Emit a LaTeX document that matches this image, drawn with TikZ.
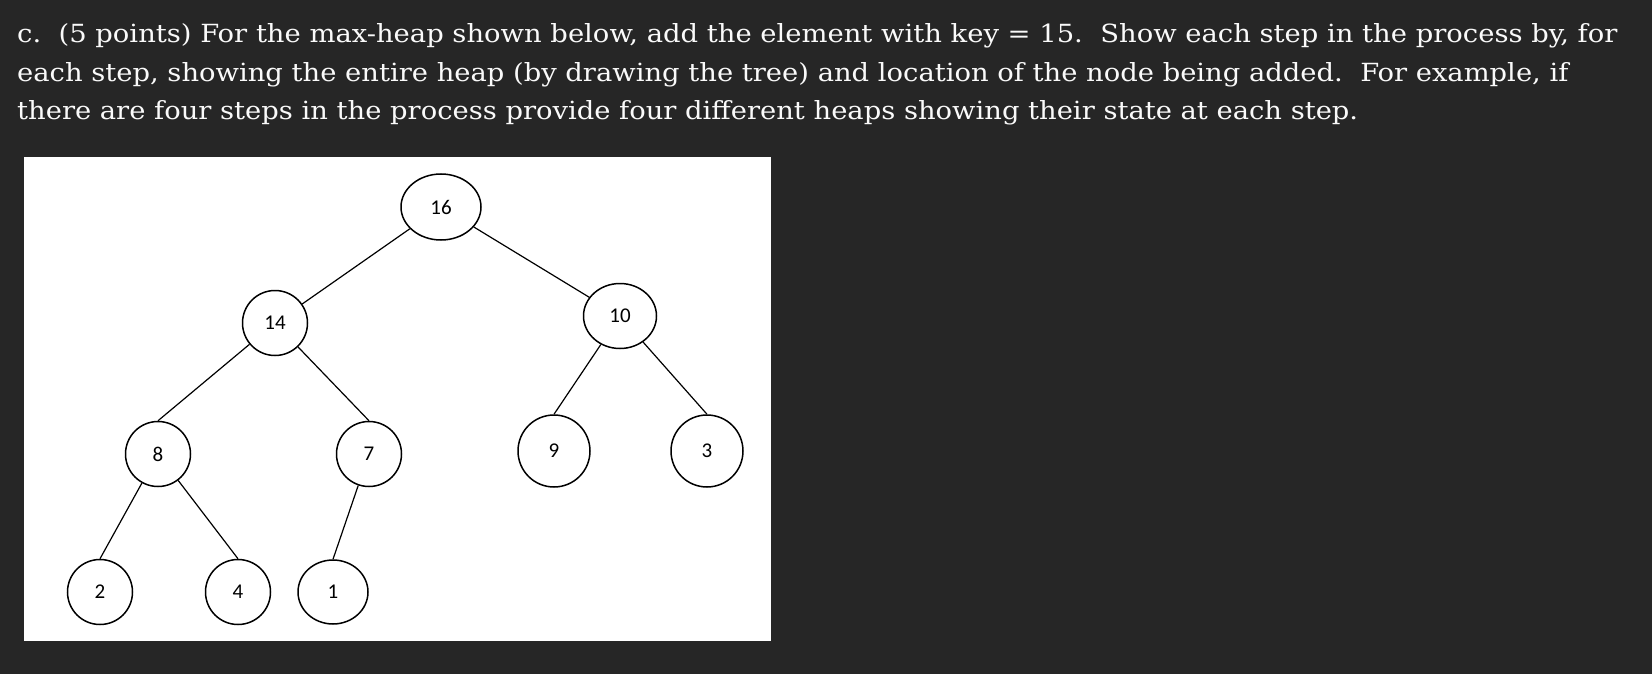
\documentclass[tikz,border=0pt]{standalone}
\usepackage{fontspec}
\usepackage{graphicx}
\usepackage{tikz}
\usetikzlibrary{shapes.geometric}
\setmainfont{DejaVu Serif Condensed}
\newfontfamily\keyfont{Carlito}
\definecolor{pagebg}{RGB}{38,38,38}
\definecolor{qtext}{RGB}{250,250,250}

\tikzset{
  heapnode/.style={draw=black, ellipse, line width=1.5pt, fill=white, inner sep=0pt,
    font=\keyfont\fontsize{21}{21}\selectfont},
  heapedge/.style={draw=black, line width=1.2pt},
  qline/.style={anchor=base west, text=qtext, inner sep=0pt,
    font=\fontsize{25}{34}\selectfont}
}

\begin{document}
\begin{tikzpicture}[x=1pt, y=-1pt]
    % Background
    \fill[pagebg] (0,0) rectangle (1652,674);
    \useasboundingbox (0,0) rectangle (1652,674);

    % Question text
    \node[qline] (q1) at (17,43) {\resizebox{1600pt}{\height}{c.\ \ (5 points) For the max-heap shown below, add the element with key = 15.\ \ Show each step in the process by, for}};
    \node[qline] (q2) at (17,82) {\resizebox{1551pt}{\height}{each step, showing the entire heap (by drawing the tree) and location of the node being added.\ \ For example, if}};
    \node[qline] (q3) at (17,120) {\resizebox{1341pt}{\height}{there are four steps in the process provide four different heaps showing their state at each step.}};

    % White panel
    \fill[white] (24,157) rectangle (771,641);

    % Heap nodes
    \node[heapnode, minimum width=80pt, minimum height=66pt] (n16) at (441,207) {16};
    \node[heapnode, minimum width=65pt, minimum height=65pt] (n14) at (275,323) {14};
    \node[heapnode, minimum width=73pt, minimum height=65pt] (n10) at (620,316) {10};
    \node[heapnode, minimum width=65pt, minimum height=65pt] (n8) at (158,454) {8};
    \node[heapnode, minimum width=65pt, minimum height=65pt] (n7) at (369,454) {7};
    \node[heapnode, minimum width=72pt, minimum height=72pt] (n9) at (554,451) {9};
    \node[heapnode, minimum width=72pt, minimum height=72pt] (n3) at (707,451) {3};
    \node[heapnode, minimum width=65pt, minimum height=65pt] (n2) at (100,592) {2};
    \node[heapnode, minimum width=65pt, minimum height=65pt] (n4) at (238,592) {4};
    \node[heapnode, minimum width=70pt, minimum height=64pt] (n1) at (333,592) {1};

    % Edges
    \draw[heapedge] (n16) -- (n14);
    \draw[heapedge] (n16) -- (n10);
    \draw[heapedge] (n14) -- (n8.north);
    \draw[heapedge] (n14) -- (n7.north);
    \draw[heapedge] (n10) -- (n9.north);
    \draw[heapedge] (n10) -- (n3.north);
    \draw[heapedge] (n8) -- (n2.north);
    \draw[heapedge] (n8) -- (n4.north);
    \draw[heapedge] (n7) -- (n1.north);
\end{tikzpicture}
\end{document}
